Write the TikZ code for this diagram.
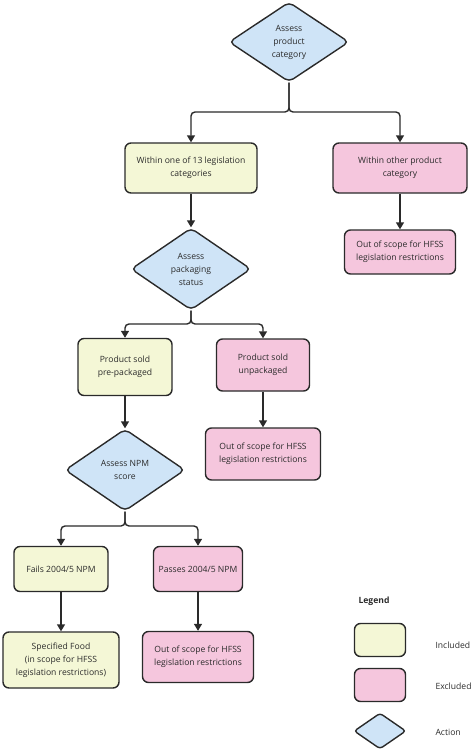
\documentclass[tikz,border=0pt]{standalone}
\usepackage{fontspec}
\setmainfont{Open Sans}
\usetikzlibrary{arrows.meta,shapes.geometric}
\definecolor{incl}{HTML}{F4F7D6}
\definecolor{excl}{HTML}{F5C6DD}
\definecolor{act}{HTML}{CFE4F7}
\definecolor{edge}{HTML}{2A2A2A}
\definecolor{txt}{HTML}{2B2B2B}
\begin{document}
\begin{tikzpicture}[x=1pt,y=-1pt,
  font=\fontsize{8.6}{13}\selectfont, text=txt,
  base/.style={draw=edge, line width=1.4pt, align=center, inner sep=0pt},
  inclbox/.style={base, fill=incl, rounded corners=6pt},
  exclbox/.style={base, fill=excl, rounded corners=6pt},
  actdia/.style={base, fill=act, diamond, rounded corners=5pt},
  conn/.style={draw=edge, line width=1.4pt, -{Triangle[length=7pt,width=8pt]}},
  split/.style={conn, rounded corners=4pt}]
\useasboundingbox (0,0) rectangle (474,753);
% nodes
\node[actdia, minimum width=120pt, minimum height=80pt] (d1) at (289,42) {Assess\\product\\category};
\node[inclbox, minimum width=132pt, minimum height=50pt] (a) at (191,168) {Within one of 13 legislation\\categories};
\node[exclbox, minimum width=134pt, minimum height=50pt] (b) at (400,168) {Within other product\\category};
\node[exclbox, minimum width=111pt, minimum height=44pt] (c) at (400,252) {Out of scope for HFSS\\legislation restrictions};
\node[actdia, minimum width=120pt, minimum height=82pt] (d2) at (191,269) {Assess\\packaging\\status};
\node[inclbox, minimum width=94pt, minimum height=57pt] (d) at (125,367) {Product sold\\pre-packaged};
\node[exclbox, minimum width=93pt, minimum height=52pt] (e) at (263,365) {Product sold\\unpackaged};
\node[exclbox, minimum width=115pt, minimum height=52pt] (f) at (263,454) {Out of scope for HFSS\\legislation restrictions};
\node[actdia, minimum width=120pt, minimum height=82pt] (d3) at (125,470) {Assess NPM\\score};
\node[inclbox, minimum width=94pt, minimum height=45pt] (g) at (61,569) {Fails 2004/5 NPM};
\node[exclbox, minimum width=89pt, minimum height=45pt] (h) at (198,569) {Passes 2004/5 NPM};
\node[inclbox, minimum width=116pt, minimum height=56pt] (i) at (61,660) {Specified Food\\(in scope for HFSS\\legislation restrictions)};
\node[exclbox, minimum width=111pt, minimum height=51pt] (j) at (198,657) {Out of scope for HFSS\\legislation restrictions};
% legend
\node[font=\fontsize{8.6}{13}\selectfont\bfseries, anchor=west] (lt) at (355,601) {Legend};
\node[inclbox, minimum width=51pt, minimum height=33pt] (l1) at (380,640) {};
\node[exclbox, minimum width=51pt, minimum height=33pt] (l2) at (380,685) {};
\node[actdia, minimum width=52pt, minimum height=36pt, rounded corners=3pt] (l3) at (380,731) {};
\node[anchor=west] (t1) at (432,645) {Included};
\node[anchor=west] (t2) at (432,686) {Excluded};
\node[anchor=west] (t3) at (432,732) {Action};
% connectors
\coordinate (s1) at (289,112);
\coordinate (s2) at (191,324);
\coordinate (s3) at (125,526);
\draw[split] (d1.south) -- (s1) -| (a.north);
\draw[split] (d1.south) -- (s1) -| (b.north);
\draw[conn] (a) -- (d2);
\draw[conn] (b) -- (c);
\draw[split] (d2.south) -- (s2) -| (d.north);
\draw[split] (d2.south) -- (s2) -| (e.north);
\draw[conn] (d) -- (d3);
\draw[conn] (e) -- (f);
\draw[split] (d3.south) -- (s3) -| (g.north);
\draw[split] (d3.south) -- (s3) -| (h.north);
\draw[conn] (g) -- (i);
\draw[conn] (h) -- (j);
\end{tikzpicture}
\end{document}
